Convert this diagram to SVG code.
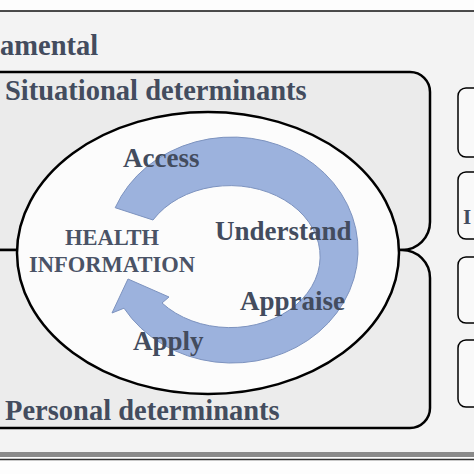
<svg xmlns="http://www.w3.org/2000/svg" width="474" height="474" viewBox="0 0 474 474">
  <style>
    .lbl { font-family: "Liberation Serif", "Times New Roman", serif; font-weight: bold; fill: #434c5e; }
    .big { font-size: 28.5px; }
    .cyc { font-size: 27px; }
    .hi { font-size: 22.5px; fill: #4a5366; }
    .frag { font-size: 21px; }
    .box { stroke: #000; stroke-width: 2.5; }
    .side { fill: #f9f9f9; stroke: #000; stroke-width: 1.5; }
  </style>
  <rect x="0" y="0" width="474" height="474" fill="#fdfdfd"/>
  <rect x="0" y="11" width="474" height="441" fill="#f3f3f3"/>
  <line x1="0" y1="11" x2="474" y2="11" stroke="#111" stroke-width="1.5"/>
  <rect x="0" y="452" width="474" height="5" fill="#8a8a8a"/>
  <line x1="0" y1="459.5" x2="474" y2="459.5" stroke="#333" stroke-width="1.5"/>

  <g id="fundamental">
    <text class="lbl big" x="0" y="55">amental</text>
  </g>

  <g id="situational">
    <path class="box" fill="#ebebeb" d="M -5,72 H 410 A 20 20 0 0 1 430,92 V 222 A 28 28 0 0 1 402,250 H -5 Z"/>
    <text class="lbl big" x="5" y="100">Situational determinants</text>
  </g>

  <g id="personal">
    <path class="box" fill="#ececec" d="M -5,250 H 402 A 28 28 0 0 1 430,278 V 408 A 20 20 0 0 1 410,428 H -5 Z"/>
    <text class="lbl big" x="5" y="420">Personal determinants</text>
  </g>

  <g id="health-information">
    <ellipse cx="208" cy="253" rx="191" ry="141" fill="#fcfcfc" stroke="#000" stroke-width="2.5"/>
    <path d="M 115.2,207.7 A 126 113 0 1 1 124,308.2 L 112,313 L 128,279 L 169,297 L 162,303 A 90 71 0 1 0 153,220 Z" fill="#9cb2dd" stroke="#7d93bf" stroke-width="1"/>
    <text class="lbl hi" x="112" y="245" text-anchor="middle">HEALTH</text>
    <text class="lbl hi" x="112" y="272" text-anchor="middle">INFORMATION</text>
    <text class="lbl cyc" x="123" y="167">Access</text>
    <text class="lbl cyc" x="215" y="240">Understand</text>
    <text class="lbl cyc" x="240" y="310">Appraise</text>
    <text class="lbl cyc" x="133" y="350">Apply</text>
  </g>

  <g id="side-box-1"><rect class="side" x="458" y="88" width="30" height="69" rx="8"/></g>
  <g id="side-box-2">
    <rect class="side" x="458" y="172" width="30" height="67" rx="8"/>
    <text class="lbl frag" x="463" y="224">I</text>
  </g>
  <g id="side-box-3"><rect class="side" x="458" y="257" width="30" height="66" rx="8"/></g>
  <g id="side-box-4"><rect class="side" x="458" y="340" width="30" height="67" rx="8"/></g>
  <g id="connectors"></g>
</svg>
